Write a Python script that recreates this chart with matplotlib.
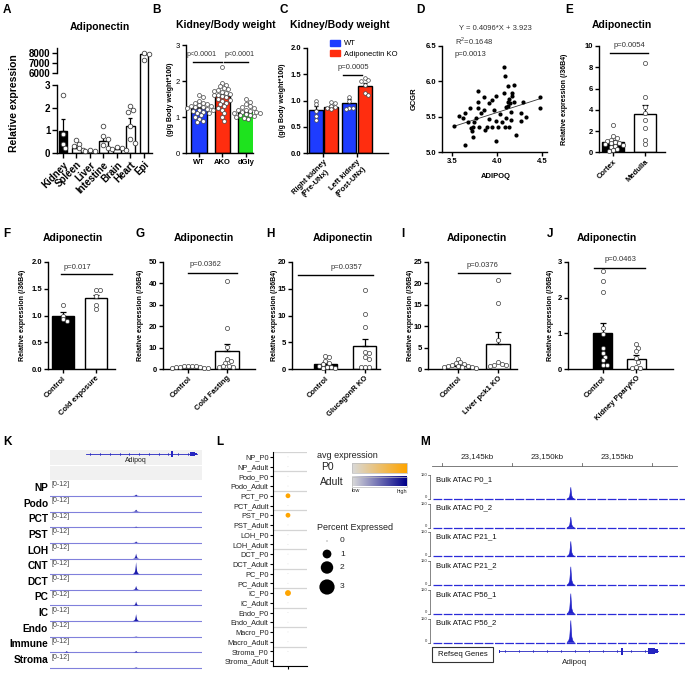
import numpy as np
import matplotlib
matplotlib.use('Agg')
import matplotlib.pyplot as plt
from matplotlib.colors import LinearSegmentedColormap
from matplotlib.patches import Rectangle

plt.rcParams['font.family'] = ['Liberation Sans', 'DejaVu Sans']
plt.rcParams['mathtext.fontset'] = 'custom'
plt.rcParams['mathtext.rm'] = 'Liberation Sans'

# ======================= DATA =======================
# A
A_tissues = ['Kidney', 'Spleen', 'Liver', 'Intestine', 'Brain', 'Heart', 'Epi']
A_means = [0.97, 0.24, 0.08, 0.53, 0.17, 1.21, 7950]
A_sems = [0.55, 0.12, 0.02, 0.18, 0.04, 0.33, 60]
A_points = [[2.55, 0.86, 0.40, 0.22],
            [0.57, 0.40, 0.29, 0.21, 0.15],
            [0.12, 0.09, 0.07],
            [1.19, 0.74, 0.60, 0.36, 0.24],
            [0.27, 0.21, 0.17, 0.12],
            [2.07, 1.90, 1.80, 1.17, 0.60, 0.45],
            [7980, 7900, 7300]]
# B
B_groups = ['WT', 'AKO', 'dGly']
B_means = [1.25, 1.58, 1.15]
B_sems = [0.04, 0.06, 0.03]
B_points = [[1.60, 1.55, 1.45, 1.40, 1.38, 1.35, 1.32, 1.30, 1.30, 1.28, 1.27, 1.25,
             1.22, 1.20, 1.20, 1.18, 1.15, 1.12, 1.10, 1.05, 1.00, 0.95, 0.90, 0.85],
            [2.40, 1.95, 1.90, 1.85, 1.80, 1.78, 1.75, 1.72, 1.70, 1.68, 1.65, 1.62, 1.60,
             1.58, 1.55, 1.50, 1.48, 1.45, 1.40, 1.35, 1.30, 1.25, 1.20, 1.10, 1.00, 0.90],
            [1.50, 1.42, 1.35, 1.30, 1.28, 1.25, 1.20, 1.20, 1.18, 1.15, 1.15, 1.12, 1.10,
             1.08, 1.05, 1.05, 1.02, 1.00, 0.98, 0.95]]
B_pvals = ['p<0.0001', 'p<0.0001']
# C
C_groups = ['Right kidney\n(Pre-UNx)', 'Left kidney\n(Post-UNx)']
C_series = ['WT', 'Adiponectin KO']
C_wt_means = [0.81, 0.95]
C_wt_sems = [0.08, 0.07]
C_ko_means = [0.88, 1.27]
C_ko_sems = [0.03, 0.06]
C_wt_points = [[1.00, 0.93, 0.80, 0.70, 0.62], [1.07, 1.00, 0.86, 0.85, 0.84]]
C_ko_points = [[0.98, 0.96, 0.90, 0.88, 0.85, 0.83], [1.42, 1.39, 1.38, 1.30, 1.15, 1.10]]
C_pval = 'p=0.0005'
# D
D_adipoq = [3.53, 3.58, 3.62, 3.65, 3.65, 3.70, 3.68, 3.71, 3.72, 3.73, 3.74, 3.75, 3.77,
            3.79, 3.79, 3.79, 3.80, 3.82, 3.86, 3.86, 3.87, 3.89, 3.91, 3.91, 3.95, 3.95,
            3.97, 3.99, 3.99, 4.01, 4.03, 4.05, 4.08, 4.09, 4.10, 4.10, 4.12, 4.08, 4.09,
            4.12, 4.13, 4.14, 4.15, 4.16, 4.17, 4.17, 4.19, 4.19, 4.21, 4.13, 4.12, 4.27,
            4.26, 4.29, 4.32, 4.48, 4.48, 3.99]
D_gcgr = [5.37, 5.51, 5.48, 5.10, 5.55, 5.62, 5.43, 5.34, 5.30, 5.35, 5.21, 5.43, 5.49,
          5.62, 5.87, 5.71, 5.35, 5.55, 5.78, 5.60, 5.32, 5.35, 5.70, 5.47, 5.74, 5.35,
          5.59, 5.44, 5.16, 5.35, 5.54, 5.43, 5.83, 5.35, 5.64, 5.49, 5.71, 6.21, 6.08,
          5.93, 5.75, 5.69, 5.57, 5.46, 5.84, 5.79, 5.95, 5.71, 5.24, 5.35, 5.65, 5.56,
          5.44, 5.71, 5.50, 5.78, 5.62, 5.79]
D_slope, D_intercept = 0.4096, 3.923
D_r2, D_p = '0.1648', '0.0013'
# E
E_groups = ['Cortex', 'Medulla']
E_means = [1.0, 3.6]
E_sems = [0.15, 0.88]
E_points = [[2.57, 1.54, 1.32, 1.20, 1.10, 1.00, 0.90, 0.85, 0.80, 0.70, 0.60, 0.50, 0.30, 0.20, 0.10],
            [8.37, 5.23, 4.30, 3.67, 3.04, 2.30, 1.16, 0.75]]
E_pval = 'p=0.0054'
# F
F_groups = ['Control', 'Cold exposure']
F_means = [1.0, 1.33]
F_sems = [0.07, 0.06]
F_points = [[1.19, 1.00, 0.93, 0.90], [1.48, 1.47, 1.37, 1.20, 1.13]]
F_pval = 'p=0.017'
# G
G_groups = ['Control', 'Cold Fasting']
G_means = [1.0, 8.4]
G_sems = [0.1, 3.5]
G_points = [[1.6, 1.5, 1.4, 1.2, 1.0, 0.9, 0.8, 0.7, 0.5, 0.4],
            [40.9, 19.2, 10.2, 4.7, 3.6, 3.0, 1.6, 1.5, 1.1, 0.8]]
G_pval = 'p=0.0362'
# H
H_groups = ['Control', 'GlucagonR KO']
H_means = [1.0, 4.3]
H_sems = [0.3, 1.4]
H_points = [[2.4, 2.3, 1.5, 1.1, 0.9, 0.6, 0.4, 0.3, 0.2, 0.1],
            [14.8, 10.3, 7.9, 3.1, 2.9, 2.3, 1.9, 0.4, 0.4, 0.3]]
H_pval = 'p=0.0357'
# I
I_groups = ['Control', 'Liver pck1 KO']
I_means = [0.8, 5.9]
I_sems = [0.2, 2.8]
I_points = [[2.4, 1.6, 1.5, 1.2, 1.0, 0.8, 0.7, 0.6, 0.5, 0.5, 0.4, 0.3],
            [20.7, 15.5, 6.8, 1.6, 1.2, 1.0, 0.9, 0.8]]
I_pval = 'p=0.0376'
# J
J_groups = ['Control', 'Kidney PparγKO']
J_means = [1.0, 0.27]
J_sems = [0.28, 0.11]
J_points = [[2.75, 2.47, 2.16, 1.14, 0.98, 0.60, 0.45, 0.35, 0.25, 0.12, 0.10],
            [0.70, 0.60, 0.50, 0.30, 0.20, 0.05, 0.03, 0.02]]
J_pval = 'p=0.0463'
# K (snATAC pseudo-bulk tracks, range 0-12)
K_cells = ['NP', 'Podo', 'PCT', 'PST', 'LOH', 'CNT', 'DCT', 'PC', 'IC', 'Endo', 'Immune', 'Stroma']
K_peak = [1.3, 1.7, 0.6, 1.3, 4.3, 10.3, 3.4, 3.4, 6.0, 0.4, 1.3, 0.6]
K_range = '[0-12]'
K_extra_peak_kb, K_extra_peak_val = 23144.6, 1.2   # small bump in Immune track
# gene model (kb)
gene_name = 'Adipoq'
gene_start, gene_end = 23146.57, 23157.93
exon_mid = 23155.36
exon_last = (23157.21, 23157.93)
peak_kb = 23151.7
peak_off = [-0.35, -0.2, -0.1, -0.04, 0.0, 0.04, 0.1, 0.2, 0.35]
peak_rel = [0.0, 0.08, 0.25, 0.65, 1.0, 0.65, 0.25, 0.08, 0.0]
# L (dot plot)
L_cells = ['NP', 'Podo', 'PCT', 'PST', 'LOH', 'DCT', 'PC', 'IC', 'Endo', 'Macro', 'Stroma']
L_pct_P0 = [0, 0, 0.3, 0.3, 0, 0, 0, 0.45, 0, 0, 0]
L_pct_Adult = [0, 0, 0, 0, 0, 0, 0, 0, 0, 0, 0]
L_avg_P0 = [0.0, 0.0, 1.0, 1.0, 0.0, 0.0, 0.0, 1.0, 0.0, 0.0, 0.0]
L_avg_Adult = [0.0, 0.0, 0.0, 0.0, 0.0, 0.0, 0.0, 0.0, 0.0, 0.0, 0.0]
L_legend_pct = [0, 1, 2, 3]
# M (bulk ATAC)
M_tracks = ['Bulk ATAC P0_1', 'Bulk ATAC P0_2', 'Bulk ATAC P21_1', 'Bulk ATAC P21_2',
            'Bulk ATAC P56_1', 'Bulk ATAC P56_2']
M_peak = [64, 58, 82, 100, 110, 120]
M_ymax = 120
M_ruler_kb = [23145, 23150, 23155]
M_ruler_labels = ['23,145kb', '23,150kb', '23,155kb']
M_minor_kb = [23142.5, 23147.5, 23152.5, 23157.5]

# ======================= HELPERS =======================
W, H = 685, 674
fig = plt.figure(figsize=(W / 100, H / 100), dpi=100)


def add_ax(l, t, r, b):
    return fig.add_axes([l / W, 1 - b / H, (r - l) / W, (b - t) / H])


def ftext(x, y, s, **kw):
    kw.setdefault('ha', 'center')
    kw.setdefault('va', 'center')
    fig.text(x / W, 1 - y / H, s, **kw)


def style(ax, fs=5.5, lw=1.0, tl=3, bold=True):
    for s in ['top', 'right']:
        ax.spines[s].set_visible(False)
    for s in ['left', 'bottom']:
        ax.spines[s].set_linewidth(lw)
    ax.tick_params(direction='out', length=tl, width=lw, labelsize=fs, pad=1.2)
    if bold:
        for lab in ax.get_xticklabels() + ax.get_yticklabels():
            lab.set_fontweight('bold')


def swarm(ax, x0, vals, diam):
    vals = np.asarray(vals, float)
    t = ax.transData
    ypx = t.transform(np.column_stack([np.full(len(vals), x0), vals]))[:, 1]
    ppx = t.transform((x0 + 1, 0))[0] - t.transform((x0, 0))[0]
    cands = [0.0]
    for k in range(1, 60):
        cands += [k * diam * 0.5, -k * diam * 0.5]
    placed = []
    offs = np.zeros(len(vals))
    for i in np.argsort(-vals):
        for c in cands:
            if all((c - a) ** 2 + (ypx[i] - b) ** 2 >= (diam * 0.92) ** 2 for a, b in placed):
                offs[i] = c
                placed.append((c, ypx[i]))
                break
    return offs / ppx


def draw_bar(ax, x, m, s, pts, fc, width, cap, diam=4.0, size=9, lw=1.0, ptlw=0.5, ec_pt='#3a3a3a'):
    ax.bar(x, m, width, color=fc, edgecolor='black', linewidth=lw, zorder=2)
    ax.errorbar([x], [m], yerr=[[0], [s]], fmt='none', ecolor='black', elinewidth=0.9,
                capsize=cap, capthick=0.9, zorder=3)
    if pts is not None:
        off = swarm(ax, x, pts, diam)
        ax.scatter(x + off, pts, s=size, facecolor='white', edgecolor=ec_pt,
                   linewidth=ptlw, zorder=4, clip_on=False)


def letter(x, y, s):
    ftext(x, y, s, fontsize=8.5, fontweight='bold', ha='left')


def simple_panel(rect, names, means, sems, points, fcs, xlim, ylim, yticks, width, cap,
                 pline, ptext, pstr, yfmt=None):
    ax = add_ax(*rect)
    ax.set_xlim(*xlim)
    ax.set_ylim(*ylim)
    ax.set_yticks(yticks)
    if yfmt:
        ax.set_yticklabels([yfmt.format(v) for v in yticks])
    xs = np.arange(len(names))
    ax.set_xticks(xs)
    ax.set_xticklabels(names, rotation=45, ha='right', rotation_mode='anchor', fontsize=5.5)
    for x, m, s, p, fc in zip(xs, means, sems, points, fcs):
        draw_bar(ax, x, m, s, p, fc, width, cap)
    ax.plot([pline[0], pline[1]], [pline[2]] * 2, color='black', lw=1.0, clip_on=False)
    ax.text(ptext[0], ptext[1], pstr, ha='center', va='center', fontsize=5.5,
            color='#333333', clip_on=False)
    style(ax)
    return ax


ylab36 = 'Relative expression (/36B4)'

# ======================= PANEL A =======================
letter(3, 10, 'A')
ftext(100, 27, 'Adiponectin', fontsize=7.5, fontweight='bold')
axA = add_ax(57, 85, 152, 153)
axA.set_xlim(-0.44, 6.6)
axA.set_ylim(0, 3)
axA.set_yticks([0, 1, 2, 3])
xs = np.arange(len(A_tissues))
axA.set_xticks(xs)
axA.set_xticklabels(A_tissues, rotation=45, ha='right', rotation_mode='anchor', fontsize=7)
A_fc = ['black'] + ['white'] * 6
for i in range(6):
    draw_bar(axA, xs[i], A_means[i], A_sems[i], A_points[i], A_fc[i], 0.62, 1.6,
             diam=4.6, size=11, ptlw=0.6, ec_pt='#444444')
axA.bar(xs[6], A_means[6], 0.62, color='white', edgecolor='black', linewidth=1.0, zorder=2)
style(axA, fs=7, tl=3.5)
axAu = add_ax(57, 48, 152, 85)
axAu.set_xlim(-0.44, 6.6)
axAu.set_ylim(4830, 8530)
axAu.patch.set_alpha(0)
draw_bar(axAu, xs[6], A_means[6], A_sems[6], A_points[6], 'white', 0.62, 1.6,
         diam=4.6, size=11, ptlw=0.6, ec_pt='#444444')
axAu.set_yticks([6000, 7000, 8000])
axAu.set_xticks([])
style(axAu, fs=7, tl=3.5)
axAu.spines['bottom'].set_visible(False)
axAu.spines['left'].set_bounds(6000, 8530)
ftext(14, 103, 'Relative expression', fontsize=7.5, fontweight='bold', rotation=90)

# ======================= PANEL B =======================
letter(152, 10, 'B')
ftext(226, 25, 'Kidney/Body weight', fontsize=7.5, fontweight='bold')
axB = add_ax(186, 45, 253, 153)
axB.set_xlim(-0.55, 2.3)
axB.set_ylim(0, 3)
axB.set_yticks([0, 1, 2, 3])
axB.set_xticks(range(3))
axB.set_xticklabels(B_groups, fontsize=6)
B_colors = ['#1e3cff', '#ff2d0f', '#1ee31e']
for i in range(3):
    draw_bar(axB, i, B_means[i], B_sems[i], B_points[i], B_colors[i], 0.66, 1.2,
             diam=4.0, size=8, ptlw=0.5, ec_pt='#444444')
axB.plot([-0.25, 0.98], [2.54, 2.54], color='black', lw=1.0)
axB.plot([1.05, 2.1], [2.54, 2.54], color='black', lw=1.0)
axB.text(0.1, 2.74, B_pvals[0], ha='center', va='center', fontsize=5.1, color='#333333')
axB.text(1.74, 2.74, B_pvals[1], ha='center', va='center', fontsize=5.1, color='#333333',
         clip_on=False)
style(axB, fs=5.5)
for lab in axB.get_yticklabels():
    lab.set_fontweight('normal')
ftext(171, 99, '(g/g Body weight*100)', fontsize=5, fontweight='bold', rotation=90)

# ======================= PANEL C =======================
letter(279, 10, 'C')
ftext(340, 25, 'Kidney/Body weight', fontsize=7.5, fontweight='bold')
axC = add_ax(307, 48, 388, 153)
axC.set_xlim(-0.49, 1.93)
axC.set_ylim(0, 2.0)
axC.set_yticks([0, 0.5, 1.0, 1.5, 2.0])
axC.set_yticklabels(['{:.1f}'.format(v) for v in [0, 0.5, 1.0, 1.5, 2.0]])
axC.set_xticks([0, 1])
axC.set_xticklabels(C_groups, rotation=45, ha='right', rotation_mode='anchor', fontsize=5.5,
                    multialignment='center')
for g in range(2):
    draw_bar(axC, g - 0.23, C_wt_means[g], C_wt_sems[g], C_wt_points[g], B_colors[0], 0.42, 1.2,
             diam=3.6, size=7, ptlw=0.5, ec_pt='#444444')
    draw_bar(axC, g + 0.23, C_ko_means[g], C_ko_sems[g], C_ko_points[g], B_colors[1], 0.42, 1.2,
             diam=3.6, size=7, ptlw=0.5, ec_pt='#444444')
axC.plot([0.58, 1.15], [1.49, 1.49], color='black', lw=1.0)
axC.text(0.88, 1.62, C_pval, ha='center', va='center', fontsize=5.5, color='#333333')
hC = [Rectangle((0, 0), 1, 1, color=B_colors[0]), Rectangle((0, 0), 1, 1, color=B_colors[1])]
axC.legend(hC, C_series, loc='upper left', bbox_to_anchor=(0.28, 1.08), frameon=False,
           fontsize=5.5, handlelength=1.3, handleheight=0.9, labelspacing=0.35,
           handletextpad=0.6, borderpad=0, borderaxespad=0)
style(axC, fs=5.5)
ftext(283, 100, '(g/g Body weight*100)', fontsize=5, fontweight='bold', rotation=90)

# ======================= PANEL D =======================
letter(416, 10, 'D')
axD = add_ax(442, 46, 547, 152.3)
axD.set_xlim(3.393, 4.552)
axD.set_ylim(5.0, 6.5)
axD.scatter(D_adipoq, D_gcgr, s=9, color='black', zorder=3, linewidth=0)
xx = np.array([min(D_adipoq), max(D_adipoq)])
axD.plot(xx, D_slope * xx + D_intercept, color='#333333', lw=0.6, zorder=2)
axD.set_xticks([3.5, 4.0, 4.5])
axD.set_xticklabels(['3.5', '4.0', '4.5'])
axD.set_yticks([5.0, 5.5, 6.0, 6.5])
axD.set_yticklabels(['5.0', '5.5', '6.0', '6.5'])
style(axD, fs=5.5)
ftext(496, 177, 'ADIPOQ', fontsize=5.5, fontweight='bold')
ftext(414, 99, 'GCGR', fontsize=5.5, fontweight='bold', rotation=90)
ftext(459, 28, 'Y = {}*X + {}'.format(D_slope, D_intercept), fontsize=5.5, ha='left', color='#333333')
ftext(455, 41, 'R$^2$=' + D_r2, fontsize=5.5, ha='left', color='#333333')
ftext(455, 55, 'p=' + D_p, fontsize=5.5, ha='left', color='#333333')

# ======================= PANEL E =======================
letter(565, 10, 'E')
ftext(622, 25, 'Adiponectin', fontsize=7.5, fontweight='bold')
simple_panel((599, 46, 665, 152.3), E_groups, E_means, E_sems, E_points, ['black', 'white'],
             (-0.44, 1.63), (0, 10), [0, 2, 4, 6, 8, 10], 0.68, 2.2,
             (-0.1, 1.1, 9.3), (0.5, 10.05), E_pval)
ftext(565, 99, ylab36, fontsize=5, fontweight='bold', rotation=90)

# ======================= ROW 2 =======================
r2t, r2b = 262, 369
ttl_y = 238
# F
letter(3, 234, 'F')
ftext(73, ttl_y, 'Adiponectin', fontsize=7.5, fontweight='bold')
simple_panel((48, r2t, 115, r2b), F_groups, F_means, F_sems, F_points, ['black', 'white'],
             (-0.45, 1.58), (0, 2.0), [0, 0.5, 1.0, 1.5, 2.0], 0.65, 2.2,
             (-0.06, 1.5, 1.78), (0.45, 1.9), F_pval, yfmt='{:.1f}')
ftext(23, 315, ylab36, fontsize=5, fontweight='bold', rotation=90)
# G
letter(136, 234, 'G')
ftext(204, ttl_y, 'Adiponectin', fontsize=7.5, fontweight='bold')
simple_panel((163, r2t, 255, r2b), G_groups, G_means, G_sems, G_points, ['white', 'white'],
             (-0.64, 1.72), (0, 50), [0, 10, 20, 30, 40, 50], 0.6, 2.2,
             (0.0, 1.25, 44.8), (0.45, 49.0), G_pval)
ftext(141, 315, ylab36, fontsize=5, fontweight='bold', rotation=90)
# H
letter(266, 234, 'H')
ftext(343, ttl_y, 'Adiponectin', fontsize=7.5, fontweight='bold')
simple_panel((292, r2t, 380, r2b), H_groups, H_means, H_sems, H_points, ['black', 'white'],
             (-0.84, 1.39), (0, 20), [0, 5, 10, 15, 20], 0.58, 2.2,
             (-0.68, 1.2, 17.6), (0.55, 18.9), H_pval)
ftext(274, 315, ylab36, fontsize=5, fontweight='bold', rotation=90)
# I
letter(401, 234, 'I')
ftext(477, ttl_y, 'Adiponectin', fontsize=7.5, fontweight='bold')
simple_panel((428, r2t, 517, r2b), I_groups, I_means, I_sems, I_points, ['white', 'white'],
             (-0.75, 1.48), (0, 25), [0, 5, 10, 15, 20, 25], 0.6, 2.2,
             (0.0, 1.3, 22.4), (0.62, 24.2), I_pval)
ftext(410, 315, ylab36, fontsize=5, fontweight='bold', rotation=90)
# J
letter(547, 234, 'J')
ftext(607, ttl_y, 'Adiponectin', fontsize=7.5, fontweight='bold')
simple_panel((568, r2t, 673, r2b), J_groups, J_means, J_sems, J_points, ['black', 'white'],
             (-1.03, 2.09), (0, 3), [0, 1, 2, 3], 0.56, 2.2,
             (-0.26, 1.26, 2.84), (0.53, 3.06), J_pval)
ftext(550, 315, ylab36, fontsize=5, fontweight='bold', rotation=90)

# ======================= PANEL K =======================
letter(3, 442, 'K')
kbK = lambda p: gene_start + (p - 86) / 9.77
axK = add_ax(50, 447, 202, 672)
axK.set_xlim(kbK(50), kbK(202))
axK.set_ylim(672, 447)
axK.axis('off')
axK.add_patch(Rectangle((kbK(50), 450), kbK(202) - kbK(50), 15.5, color='#f1f1f1', lw=0, zorder=0))
axK.add_patch(Rectangle((kbK(50), 466.5), kbK(202) - kbK(50), 13.5, color='#f1f1f1', lw=0, zorder=0))
gcol = '#2424c0'


def draw_gene(ax, y, sc):
    ax.plot([gene_start, gene_end], [y, y], color=gcol, lw=0.6, zorder=2)
    for k in np.arange(np.ceil(gene_start), gene_end - 0.8, 1.0):
        ax.plot([k, k], [y - 1, y + 1], color=gcol, lw=0.5)
    ax.add_patch(Rectangle((gene_start, y - 1.5), 0.05, 3, color=gcol, lw=0))
    ax.add_patch(Rectangle((exon_mid - 0.1 * sc, y - 3.5 * sc), 0.2 * sc, 7 * sc, color=gcol, lw=0))
    ax.add_patch(Rectangle((exon_last[0], y - 2.8 * sc), (exon_last[1] - exon_last[0]) * 0.72,
                           5.6 * sc, color=gcol, lw=0))
    ax.add_patch(Rectangle((exon_last[0], y - 1.6 * sc), exon_last[1] - exon_last[0],
                           3.2 * sc, color=gcol, lw=0))


draw_gene(axK, 454, 0.8)
axK.text(peak_kb, 461, gene_name, fontsize=5, ha='center', va='center', color='#222222')
pitch = 15.64
for i, (cell, v) in enumerate(zip(K_cells, K_peak)):
    base = 496 + pitch * i
    axK.plot([kbK(50), kbK(202)], [base, base], color='#8080dc', lw=0.8, zorder=1)
    px = peak_kb + np.array(peak_off) * (1.3 if cell == 'Podo' else 1.0)
    py = base - v / 12 * 14 * np.array(peak_rel)
    axK.fill(px, py, color='#1c1caa', lw=0, zorder=2)
    if cell == 'Immune':
        axK.fill(K_extra_peak_kb + np.array(peak_off), base - K_extra_peak_val / 12 * 14 * np.array(peak_rel),
                 color='#1c1caa', lw=0, zorder=2)
    ftext(48, base - 8, cell, fontsize=7.3, fontweight='bold', ha='right')
    ftext(51, base - 11, K_range, fontsize=5, ha='left', color='#444444')

# ======================= PANEL L =======================
letter(216, 442, 'L')
axL = add_ax(273, 452, 307, 666)
L_rows = []
L_pct = []
L_col = []
cmP0 = LinearSegmentedColormap.from_list('p0', ['#d9d9d9', '#ffa500'])
cmAd = LinearSegmentedColormap.from_list('ad', ['#d9d9d9', '#00008b'])
for c, p0, pa, a0, aa in zip(L_cells, L_pct_P0, L_pct_Adult, L_avg_P0, L_avg_Adult):
    L_rows += [c + '_P0', c + '_Adult']
    L_pct += [p0, pa]
    L_col += [cmP0(float(a0)), cmAd(float(aa))]
yy = np.arange(len(L_rows))
axL.set_ylim(len(L_rows) - 0.5, -0.5)
axL.set_xlim(-1.0, 1.27)
for b in np.arange(-0.5, len(L_rows), 2):
    axL.axhline(b, color='#d4d4d4', lw=0.9, zorder=0)
sizes = [40 * p if p > 0 else 0.4 for p in L_pct]
axL.scatter(np.zeros(len(yy)), yy, s=sizes, c=L_col, linewidth=0, zorder=3)
axL.set_yticks(yy)
axL.set_yticklabels(L_rows, fontsize=5.3, color='#222222')
axL.set_xticks([0])
axL.set_xticklabels([''])
style(axL, fs=5.3, lw=0.8, tl=2, bold=False)

axLeg = add_ax(310, 448, 420, 600)
axLeg.set_xlim(310, 420)
axLeg.set_ylim(600, 448)
axLeg.axis('off')
axLeg.text(317, 455, 'avg expression', fontsize=6.5, va='center', ha='left', color='#222222')
axLeg.text(321, 467.5, 'P0', fontsize=7.5, va='center', ha='left', color='#222222')
axLeg.text(320, 482, 'Adult', fontsize=7.5, va='center', ha='left', color='#222222')
grad = np.linspace(0, 1, 100).reshape(1, -1)
axLeg.imshow(grad, extent=(352, 407, 473, 463), aspect='auto', cmap=cmP0, zorder=1)
axLeg.imshow(grad, extent=(352, 407, 486.5, 477), aspect='auto', cmap=cmAd, zorder=1)
axLeg.add_patch(Rectangle((352, 463), 55, 10, fill=False, ec='#bbbbbb', lw=0.5))
axLeg.add_patch(Rectangle((352, 477), 55, 9.5, fill=False, ec='#bbbbbb', lw=0.5))
axLeg.text(352, 491, 'low', fontsize=4, va='center', ha='left', color='#222222')
axLeg.text(407, 491, 'high', fontsize=4, va='center', ha='right', color='#222222')
axLeg.text(317, 527, 'Percent Expressed', fontsize=6.5, va='center', ha='left', color='#222222')
leg_y = [541, 554, 567.5, 587]
axLeg.scatter([327] * 4, leg_y, s=[40 * p if p > 0 else 0.4 for p in L_legend_pct], color='black', lw=0)
for y, p in zip(leg_y, L_legend_pct):
    axLeg.text(340, y, str(p), fontsize=6, va='center', ha='left', color='#222222')
axLeg.set_xlim(310, 420)
axLeg.set_ylim(600, 448)

# ======================= PANEL M =======================
letter(420, 442, 'M')
kbM = lambda p: 23145 + (p - 477) / 14.0
axM = add_ax(425, 448, 685, 672)
axM.set_xlim(kbM(425), kbM(685))
axM.set_ylim(672, 448)
axM.axis('off')
axM.plot([kbM(432), kbM(677)], [466, 466], color='#666666', lw=0.6)
for k in M_minor_kb:
    axM.plot([k, k], [462.5, 466], color='#666666', lw=0.6)
for k, lab in zip(M_ruler_kb, M_ruler_labels):
    axM.text(k, 457, lab, fontsize=5.8, ha='center', va='center', color='#222222')
mcol = '#2b2bd8'
for i, (name, v) in enumerate(zip(M_tracks, M_peak)):
    top = 475 + 28.7 * i
    base = top + 24
    axM.plot([kbM(430), kbM(430)], [top, base], color='#555555', lw=0.5)
    axM.plot([kbM(428), kbM(430)], [top, top], color='#555555', lw=0.5)
    axM.plot([kbM(428), kbM(430)], [base, base], color='#555555', lw=0.5)
    axM.text(kbM(427.5), top, str(M_ymax), fontsize=3, ha='right', va='center', color='#333333')
    axM.text(kbM(427.5), base - 1.5, '0', fontsize=3, ha='right', va='center', color='#333333')
    axM.text(kbM(436), top + 4.5, name, fontsize=5.6, ha='left', va='center', color='#111111')
    axM.plot([kbM(433), kbM(685)], [base, base], color=mcol, lw=0.9, dashes=(7, 1.2))
    px = peak_kb + np.array(peak_off) * 0.75
    py = base - v / M_ymax * 22 * np.array(peak_rel)
    axM.fill(px, py, color='#2020c8', lw=0.4, ec='#2020c8', zorder=3)
axM.add_patch(Rectangle((kbM(432), 647), kbM(493) - kbM(432), 15, fill=False, ec='#333333', lw=0.8))
axM.text((kbM(432) + kbM(493)) / 2, 654.5, 'Refseq Genes', fontsize=5.6, ha='center', va='center',
         color='#111111')
draw_gene(axM, 651, 1.0)
axM.text(kbM(575), 663, gene_name, fontsize=5.8, ha='center', va='center', color='#222222')

fig.savefig('out.png', dpi=100)
